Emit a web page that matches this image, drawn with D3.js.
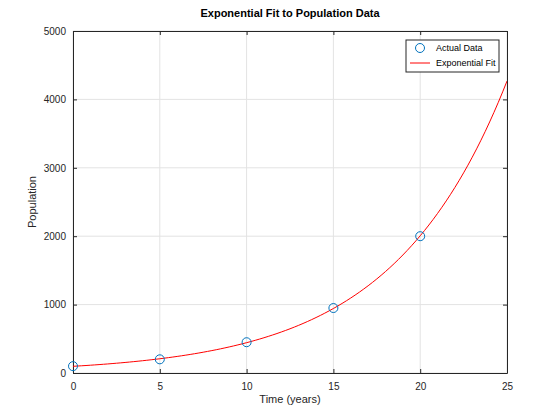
<!DOCTYPE html>
<html>
<head>
<meta charset="utf-8">
<script src="https://cdn.jsdelivr.net/npm/d3@7"></script>
<style>
  body { margin: 0; background: #fff; }
  svg { font-family: "Liberation Sans", Arial, sans-serif; }
</style>
</head>
<body>
<main></main>
<script>
// data
const years = [0, 5, 10, 15, 20];
const population = [100, 200, 450, 950, 2000];
const xTicks = [0, 5, 10, 15, 20, 25];
const yTicks = [0, 1000, 2000, 3000, 4000, 5000];

const drawChart = () => {
    const outerWidth = 560, outerHeight = 420;
    const margin = {top: 31, right: 53, bottom: 47, left: 73},
        width = outerWidth - margin.left - margin.right,
        height = outerHeight - margin.top - margin.bottom;

    const svg = d3.select("main").append("svg")
        .attr("width", outerWidth)
        .attr("height", outerHeight);

    const g = svg.append("g")
        .attr("transform", "translate(" + margin.left + "," + margin.top + ")");

    const xScale = d3.scaleLinear().domain([0, 25]).range([0, width]);
    const yScale = d3.scaleLinear().domain([0, 5000]).range([height, 0]);

    // log-linear least squares fit y = a * exp(b * t)
    const logs = population.map(p => Math.log(p));
    const mt = d3.mean(years), ml = d3.mean(logs);
    const b = d3.sum(years, (t, i) => (t - mt) * (logs[i] - ml)) / d3.sum(years, t => (t - mt) * (t - mt));
    const a = Math.exp(ml - b * mt);
    const fitT = d3.range(0, 25.001, 0.25);
    const fit = fitT.map(t => ({t: t, y: a * Math.exp(b * t)}));

    // grid
    g.append("g").selectAll("line").data(xTicks).enter().append("line")
        .attr("x1", d => xScale(d)).attr("x2", d => xScale(d))
        .attr("y1", 0).attr("y2", height)
        .attr("stroke", "#e3e3e3").attr("stroke-width", 1);
    g.append("g").selectAll("line").data(yTicks).enter().append("line")
        .attr("y1", d => yScale(d)).attr("y2", d => yScale(d))
        .attr("x1", 0).attr("x2", width)
        .attr("stroke", "#e3e3e3").attr("stroke-width", 1);

    // axes, ticks pointing inward like octave
    const xAxis = d3.axisBottom(xScale).tickValues(xTicks).tickFormat(d3.format("d"))
        .tickSize(-4).tickPadding(10).tickSizeOuter(0);
    const yAxis = d3.axisLeft(yScale).tickValues(yTicks).tickFormat(d3.format("d"))
        .tickSize(-4).tickPadding(7).tickSizeOuter(0);
    const xTop = d3.axisTop(xScale).tickValues(xTicks).tickSize(-4).tickFormat("").tickSizeOuter(0);
    const yRight = d3.axisRight(yScale).tickValues(yTicks).tickSize(-4).tickFormat("").tickSizeOuter(0);

    g.append("g").attr("class", "axis").attr("transform", "translate(0," + height + ")").call(xAxis);
    g.append("g").attr("class", "axis").call(yAxis);
    g.append("g").attr("class", "axis").call(xTop);
    g.append("g").attr("class", "axis").attr("transform", "translate(" + width + ",0)").call(yRight);

    g.selectAll(".axis path").attr("stroke", "#262626");
    g.selectAll(".axis line").attr("stroke", "#262626");
    g.selectAll(".axis text").attr("fill", "#262626").attr("font-size", 10)
        .attr("font-family", "Liberation Sans, Arial, sans-serif");

    // fit line
    const line = d3.line()
        .x(d => xScale(d.t))
        .y(d => yScale(d.y));

    g.append("clipPath").attr("id", "clip").append("rect")
        .attr("width", width).attr("height", height);

    g.append("path")
        .datum(fit)
        .attr("clip-path", "url(#clip)")
        .attr("fill", "none")
        .attr("stroke", "#ff0000")
        .attr("stroke-width", 1)
        .attr("d", line);

    // data markers
    g.selectAll(".dot")
        .data(years)
        .enter()
        .append("circle")
        .attr("class", "dot")
        .attr("cx", d => xScale(d))
        .attr("cy", (d, i) => yScale(population[i]))
        .attr("r", 4.5)
        .attr("fill", "none")
        .attr("stroke", "#0072bd")
        .attr("stroke-width", 1);

    // labels
    svg.append("text")
        .attr("x", margin.left + width / 2).attr("y", 17)
        .attr("text-anchor", "middle")
        .attr("font-size", 11).attr("font-weight", "bold")
        .attr("fill", "#000")
        .text("Exponential Fit to Population Data");

    svg.append("text")
        .attr("x", margin.left + width / 2).attr("y", 403)
        .attr("text-anchor", "middle")
        .attr("font-size", 11).attr("fill", "#262626")
        .text("Time (years)");

    svg.append("text")
        .attr("transform", "translate(36," + (margin.top + height / 2) + ") rotate(-90)")
        .attr("text-anchor", "middle")
        .attr("font-size", 11).attr("fill", "#262626")
        .text("Population");

    // legend
    const leg = svg.append("g").attr("transform", "translate(406,40)");
    leg.append("rect").attr("width", 93).attr("height", 32)
        .attr("fill", "#fff").attr("stroke", "#262626").attr("stroke-width", 1);
    leg.append("circle").attr("cx", 14).attr("cy", 8).attr("r", 4.5)
        .attr("fill", "none").attr("stroke", "#0072bd");
    leg.append("line").attr("x1", 4).attr("x2", 24).attr("y1", 23).attr("y2", 23)
        .attr("stroke", "#ff0000");
    leg.append("text").attr("x", 30).attr("y", 11).attr("font-size", 9).attr("fill", "#000")
        .text("Actual Data");
    leg.append("text").attr("x", 30).attr("y", 26).attr("font-size", 9).attr("fill", "#000")
        .text("Exponential Fit");
};

drawChart();
</script>
</body>
</html>
